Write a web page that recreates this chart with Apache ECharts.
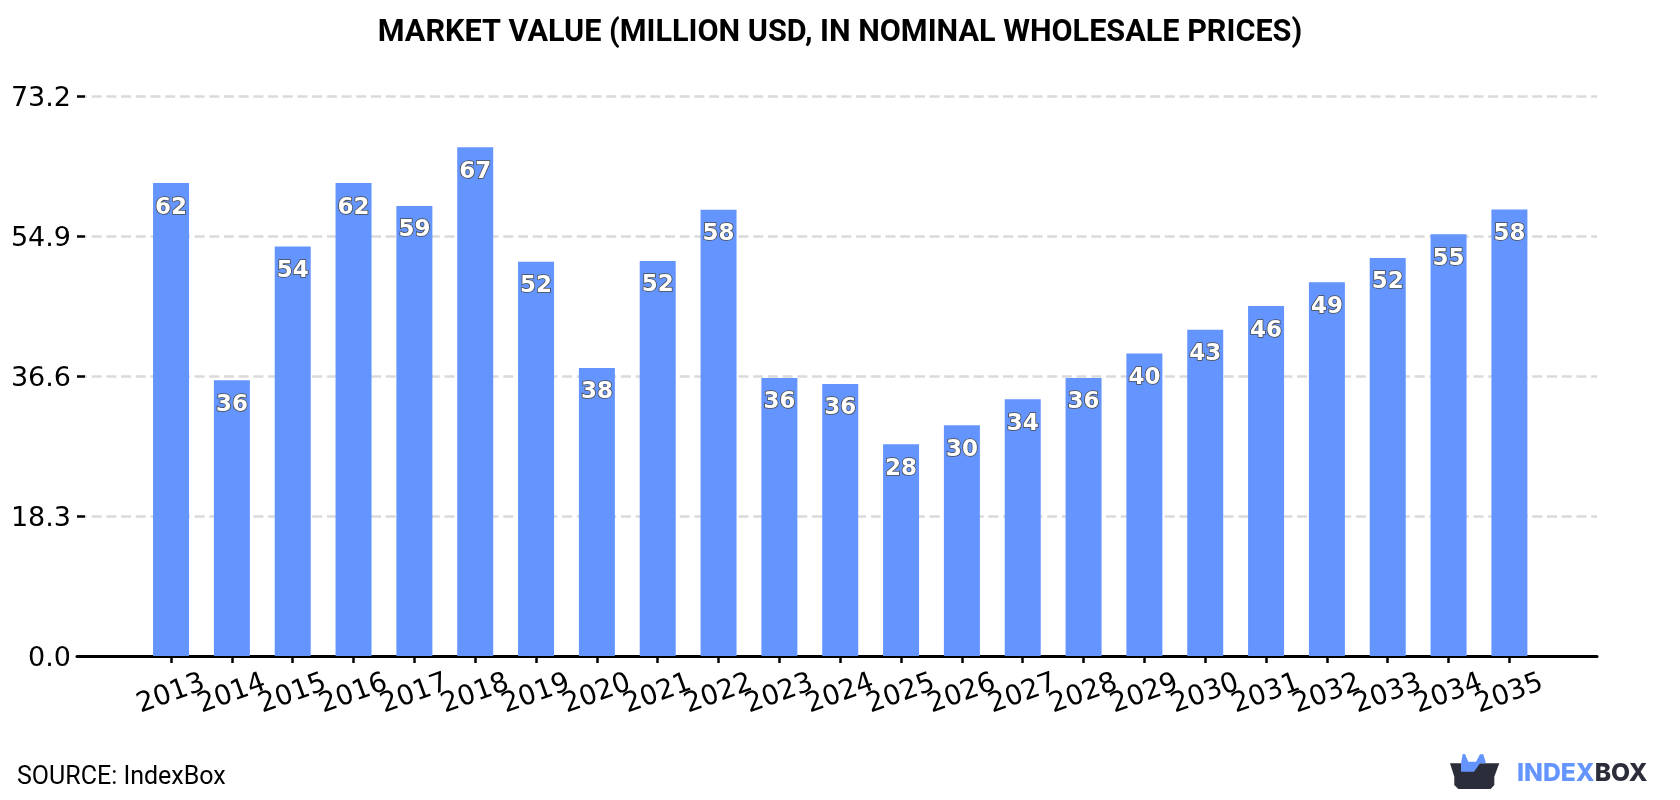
<!DOCTYPE html>
<html>
<head>
<meta charset="utf-8">
<script src="https://cdn.jsdelivr.net/npm/echarts@6/dist/echarts.min.js"></script>
<style>html,body{margin:0;padding:0;background:#fff}#chart{width:1680px;height:800px}</style>
</head>
<body>
<div id="chart"></div>
<script>
// Annual market value, million USD (2025 onward is a forecast)
const years = [2013,2014,2015,2016,2017,2018,2019,2020,2021,2022,2023,2024,2025,2026,2027,2028,2029,2030,2031,2032,2033,2034,2035];
const marketValue = [61.9,36.1,53.6,61.9,58.9,66.6,51.6,37.7,51.7,58.4,36.4,35.6,27.7,30.2,33.6,36.4,39.6,42.7,45.8,48.9,52.1,55.2,58.45];
const yTicks = [0,18.3,36.6,54.9,73.2];

const titleText = 'MARKET VALUE (MILLION USD, IN NOMINAL WHOLESALE PRICES)';
const sourceText = 'SOURCE: IndexBox';
const mono = 'DejaVu Sans';
const xMin = 2011.454, xMax = 2036.44;

const chart = echarts.init(document.getElementById('chart'), null, {renderer:'canvas'});
chart.setOption({
  animation:false,
  backgroundColor:'#fff',
  title:{
    text:titleText, left:835, top:13, textAlign:'center',
    textStyle:{fontFamily:'Roboto',fontWeight:'bold',fontSize:30.6,color:'#000'}
  },
  grid:{left:77,right:83,top:96.7,bottom:144,containLabel:false},
  xAxis:{
    type:'value', min:xMin, max:xMax, splitLine:{show:false},
    axisLine:{show:true,onZero:false,lineStyle:{color:'#000',width:3}},
    axisTick:{show:true,length:7,customValues:years,lineStyle:{color:'#000',width:2.5}},
    axisLabel:{
      // empty labels at both ends keep the overlap check from dropping real years
      customValues:[xMin,...years,xMax], rotate:20, margin:38, fontFamily:mono, fontSize:27.5, color:'#000',
      align:'center', verticalAlign:'middle',
      formatter:v=>years.includes(v)?String(v):''
    }
  },
  yAxis:{
    type:'value', min:0, max:73.2, axisLine:{show:false},
    axisTick:{show:true,inside:true,length:8,customValues:yTicks,lineStyle:{color:'#000',width:2.5}},
    axisLabel:{customValues:yTicks,margin:6,fontFamily:mono,fontSize:27,color:'#000',
      formatter:v=>'{n|'+v.toFixed(1)+'}',
      rich:{n:{fontFamily:mono,fontSize:27,color:'#000',padding:[5,0,0,0]}}},
    splitLine:{show:true,lineStyle:{color:'#dadada',width:2.5,type:[10,4.7]}}
  },
  series:[{
    type:'bar', barWidth:36, itemStyle:{color:'#6495ff'},
    data:years.map((y,i)=>[y,marketValue[i]]),
    label:{
      show:true, position:'insideTop', distance:13, fontFamily:mono, fontWeight:'bold', fontSize:23,
      color:'#fff', textBorderColor:'#4a4a4a', textBorderWidth:1.6,
      formatter:p=>String(Math.round(p.value[1]))
    }
  }],
  graphic:[
    {type:'text',left:17,top:765,style:{text:sourceText,fontFamily:'Roboto',fontSize:25,fill:'#000'}},
    {type:'polygon',shape:{points:[[1450,763.3],[1499.3,763.3],[1494.3,776.7],[1494.3,785],[1490.7,789],[1458.3,789],[1454.3,785],[1454.3,776.7]]},style:{fill:'#2b2d3a'}},
    {type:'polygon',shape:{points:[[1461,771.7],[1474,771.7],[1480,763.3],[1486,763.3],[1483.3,754.3],[1480,754.3],[1476,761.7],[1468.3,761.7],[1465,754],[1462.7,754],[1461,763.3]]},style:{fill:'#6495ff'}},
    {type:'text',left:1517,top:761,style:{
      text:'{a|INDEX}{b|BOX}',
      rich:{a:{fontFamily:'Inter',fontWeight:800,fontSize:24.7,fill:'#6495ff',color:'#6495ff'},
            b:{fontFamily:'Inter',fontWeight:800,fontSize:24.7,fill:'#2b2d3a',color:'#2b2d3a'}}
    }}
  ]
});
</script>
</body>
</html>
